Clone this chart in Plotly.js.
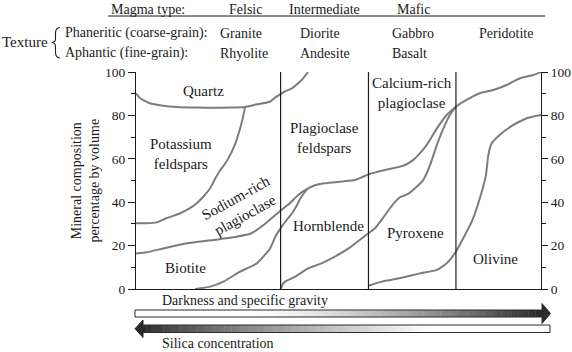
<!DOCTYPE html>
<html>
<head>
<meta charset="utf-8">
<script src="https://cdn.plot.ly/plotly-3.0.1.min.js"></script>
<style>
html,body{margin:0;padding:0;background:#fff;}
#chart{width:572px;height:352px;}
</style>
</head>
<body>
<div id="chart"></div>
<script>
// ---- Data (x: position along the rock series 0-100, y: cumulative % by volume) ----
const quartzX = [0, 1, 3.4, 6.7, 10, 15, 19.1, 23.2, 26.9, 29.8, 33.1, 34.4, 35.7, 36.7, 38.5, 40.9, 42.5];
const quartzY = [90.2, 87.9, 85.6, 84.5, 83.9, 83.6, 83.5, 83.6, 83.9, 85.1, 86.3, 88.3, 89.8, 91.0, 92.5, 96.3, 100];

const kFeldsparX = [0, 2.5, 5.1, 7.5, 10.9, 13.1, 15, 16.6, 18.3, 19.6, 20.7, 21.9, 22.8, 24.4, 25.7, 26.4, 26.9];
const kFeldsparY = [30.3, 30.3, 30.7, 32.6, 34.9, 37, 39.5, 42.5, 46.4, 51, 54.5, 57.5, 60.2, 66.4, 74, 79, 83.6];

const plagioclaseX = [0, 2.6, 6.7, 12.6, 19.1, 24.8, 28.5, 31.5, 33.9, 35.8, 38, 39.3, 40.7, 42.5, 44.2, 46.6, 50.7, 54.1, 55.8, 57.4, 61.5, 65.2, 66.8, 68.4, 70.1, 71.8, 74.3, 76.7, 79.0, 81.6, 84.9, 88.2, 91.5, 94.8, 98.1, 100];
const plagioclaseY = [16.4, 16.9, 18.7, 21.1, 22.6, 24.1, 25.7, 29.5, 33.3, 36.3, 39.5, 42, 44.3, 46.4, 47.8, 48.7, 49.5, 50.2, 51.5, 52.8, 54.8, 56.4, 57.5, 59.4, 62.5, 66.4, 74, 80.2, 84, 87.1, 90.2, 91.7, 94, 97.1, 98.6, 100];

const biotiteX = [14.6, 18.3, 21.6, 25.7, 29.8, 33.1, 34.4, 35.8, 37.2, 38.5, 39.7, 40.5, 41.4, 42.4];
const biotiteY = [0, 1.1, 3.4, 8, 11.8, 18.7, 24.1, 28.3, 31.8, 34.8, 38.5, 41.5, 44, 46.3];

const hornblendeX = [35.7, 36, 36.8, 39.3, 42.5, 45.8, 49.1, 52.5, 55.8, 57.4, 59, 61.5, 63.9, 65.2, 67.2, 68.4, 70.9, 72.6, 74.3, 75.9, 77.5, 79.0];
const hornblendeY = [0, 1.5, 3.4, 5.7, 9.5, 11.8, 14.9, 18.7, 23.4, 25.7, 28, 34.1, 40, 42.3, 43.8, 45.6, 50.2, 57.1, 66.4, 74, 80.2, 84];

const pyroxeneX = [57.4, 60.7, 65.6, 70.1, 74.3, 76.7, 79.0, 80.8, 82.9, 84.9, 86.4, 87, 87.8, 89.8, 93.2, 96.5, 100];
const pyroxeneY = [1.5, 3.4, 5.2, 7.2, 8.8, 11.8, 17.2, 23.4, 31, 41.8, 52.5, 61.8, 67.1, 71, 75.6, 78.7, 80.2];

const dividerX = [35.7, 57.4, 79.0];
const yTickVals = [0, 20, 40, 60, 80, 100];

const regionLabels = ["Quartz", "Potassium<br>feldspars", "Plagioclase<br>feldspars", "Calcium-rich<br>plagioclase", "Hornblende", "Pyroxene", "Olivine", "Biotite"];
const regionLabelX = [16.6, 11.05, 46.6, 68.2, 47.5, 69.0, 88.8, 12.3];
const regionLabelY = [91.2, 62.4, 69.4, 90.3, 29.0, 25.8, 13.8, 9.7];

const magmaTypes = ["Felsic", "Intermediate", "Mafic"];
const phaneritic = ["Granite", "Diorite", "Gabbro", "Peridotite"];
const aphanitic = ["Rhyolite", "Andesite", "Basalt"];

// ---- Layout helpers (pixel -> paper) ----
const L = 136, R = 541, T = 72, B = 289;
const px = p => (p - L) / (R - L);
const py = p => (B - p) / (B - T);
const FONT = '"Liberation Serif", "DejaVu Serif", serif';

const curveLine = {color: '#7c7c7c', width: 2, shape: 'spline', smoothing: 0.5};
const curves = [[quartzX, quartzY], [kFeldsparX, kFeldsparY], [plagioclaseX, plagioclaseY],
                [biotiteX, biotiteY], [hornblendeX, hornblendeY], [pyroxeneX, pyroxeneY]];
const traces = curves.map(c => ({x: c[0], y: c[1], mode: 'lines', line: curveLine, hoverinfo: 'skip', showlegend: false}));
dividerX.forEach(v => traces.push({x: [v, v], y: [0, 100], mode: 'lines', yaxis: 'y2',
  line: {color: '#1e1e1e', width: 1.2}, hoverinfo: 'skip', showlegend: false}));

const annotations = [];
function txt(text, x, y, opts) {
  annotations.push(Object.assign({text: text, x: x, y: y, xref: 'paper', yref: 'paper',
    showarrow: false, xanchor: 'left', yanchor: 'middle',
    font: {family: FONT, size: 14, color: '#1a1a1a'}}, opts || {}));
}
// header
txt("Magma type:", px(109), py(9));
const magmaLeft = [227, 287, 395];
magmaTypes.forEach((t, i) => txt(t, px(magmaLeft[i]), py(9)));
txt("Texture", px(0), py(42), {font: {family: FONT, size: 15, color: '#1a1a1a'}});
txt("Phaneritic (coarse-grain):", px(63), py(33));
txt("Aphantic (fine-grain):", px(63), py(53));
const rockLeft = [218, 298, 390, 477];
phaneritic.forEach((t, i) => txt(t, px(rockLeft[i]), py(33)));
aphanitic.forEach((t, i) => txt(t, px(rockLeft[i]), py(53)));
// y title
txt("Mineral composition<br>percentage by volume", px(85), 0.5, {xanchor: 'center', textangle: -90});
// bottom
txt("Darkness and specific gravity", px(160), py(300));
txt("Silica concentration", px(160), py(343));
// region labels
regionLabels.forEach((t, i) => annotations.push({text: t, x: regionLabelX[i], y: regionLabelY[i],
  xref: 'x', yref: 'y', showarrow: false, font: {family: FONT, size: 15, color: '#1a1a1a'}}));
annotations.push({text: "Sodium-rich<br>plagioclase", x: 25.7, y: 37.9, xref: 'x', yref: 'y',
  showarrow: false, textangle: -29, font: {family: FONT, size: 15, color: '#1a1a1a'}});

// shapes
const shapes = [];
shapes.push({type: 'line', xref: 'paper', yref: 'paper', x0: px(108), x1: px(545), y0: py(16), y1: py(16),
  line: {color: '#1a1a1a', width: 1}});
// thin brace next to "Texture"
shapes.push({type: 'path', xref: 'paper', yref: 'paper',
  path: `M${px(60)},${py(27.5)} Q${px(55.5)},${py(28)} ${px(55.5)},${py(33)} L${px(55.5)},${py(38.5)} ` +
        `Q${px(55.5)},${py(42.5)} ${px(51.5)},${py(42.5)} Q${px(55.5)},${py(42.5)} ${px(55.5)},${py(46.5)} ` +
        `L${px(55.5)},${py(52.5)} Q${px(55.5)},${py(57.5)} ${px(60)},${py(58)}`,
  line: {color: '#222222', width: 1.1}});
// gradient arrows
const N = 120;
function gray(v) { v = Math.max(0, Math.min(255, Math.round(v))); return 'rgb(' + v + ',' + v + ',' + v + ')'; }
// arrow 1 (light -> dark, pointing right)
const a1x0 = 135, a1x1 = 542, a1y0 = 310, a1y1 = 317;
for (let i = 0; i < N; i++) {
  const p0 = a1x0 + (a1x1 - a1x0) * i / N, p1 = a1x0 + (a1x1 - a1x0) * (i + 1) / N;
  const m = (p0 + p1) / 2;
  let v = 255;
  if (m > 250) { const t = (m - 250) / (a1x1 - 250); v = 255 - 215 * Math.pow(t, 1.4); }
  shapes.push({type: 'rect', xref: 'paper', yref: 'paper', x0: px(p0), x1: px(p1) + 0.001, y0: py(a1y1), y1: py(a1y0),
    fillcolor: gray(v), line: {width: 0}});
}
shapes.push({type: 'path', xref: 'paper', yref: 'paper',
  path: `M${px(a1x1)},${py(a1y0)} L${px(a1x0)},${py(a1y0)} L${px(a1x0)},${py(a1y1)} L${px(a1x1)},${py(a1y1)}`,
  line: {color: '#2a2a2a', width: 1}});
shapes.push({type: 'path', xref: 'paper', yref: 'paper',
  path: `M${px(a1x1)},${py(303.5)} L${px(550.5)},${py(313.5)} L${px(a1x1)},${py(323.5)} Z`,
  fillcolor: '#2b2b2b', line: {color: '#2b2b2b', width: 1}});
// arrow 2 (dark -> light, pointing left)
const a2x0 = 143, a2x1 = 550, a2y0 = 325, a2y1 = 332.5;
for (let i = 0; i < N; i++) {
  const p0 = a2x0 + (a2x1 - a2x0) * i / N, p1 = a2x0 + (a2x1 - a2x0) * (i + 1) / N;
  const m = (p0 + p1) / 2;
  const t = Math.min(1, (m - a2x0) / (430 - a2x0));
  const v = 40 + 215 * Math.pow(t, 0.8);
  shapes.push({type: 'rect', xref: 'paper', yref: 'paper', x0: px(p0), x1: px(p1) + 0.001, y0: py(a2y1), y1: py(a2y0),
    fillcolor: gray(v), line: {width: 0}});
}
shapes.push({type: 'path', xref: 'paper', yref: 'paper',
  path: `M${px(a2x0)},${py(a2y0)} L${px(a2x1)},${py(a2y0)} L${px(a2x1)},${py(a2y1)} L${px(a2x0)},${py(a2y1)}`,
  line: {color: '#2a2a2a', width: 1}});
shapes.push({type: 'path', xref: 'paper', yref: 'paper',
  path: `M${px(a2x0)},${py(320)} L${px(135)},${py(328.75)} L${px(a2x0)},${py(337.5)} Z`,
  fillcolor: '#2b2b2b', line: {color: '#2b2b2b', width: 1}});

const yaxisBase = {
  range: [0, 100], tickvals: yTickVals, ticks: 'outside', ticklen: 7, tickwidth: 1, tickcolor: '#1a1a1a',
  minor: {dtick: 10, tick0: 0, ticks: 'outside', ticklen: 4, tickwidth: 1, tickcolor: '#1a1a1a'},
  showline: true, linecolor: '#1a1a1a', linewidth: 1, showgrid: false, zeroline: false,
  tickfont: {family: FONT, size: 13.5, color: '#1a1a1a'}, fixedrange: true
};

const layout = {
  width: 572, height: 352,
  margin: {l: L, r: 572 - R, t: T, b: 352 - B, pad: 0},
  paper_bgcolor: '#ffffff', plot_bgcolor: '#ffffff',
  showlegend: false,
  font: {family: FONT, color: '#1a1a1a'},
  xaxis: {range: [0, 100], showline: true, linecolor: '#1a1a1a', linewidth: 1, ticks: '',
          showticklabels: false, showgrid: false, zeroline: false, fixedrange: true},
  yaxis: Object.assign({}, yaxisBase, {side: 'left'}),
  yaxis2: Object.assign({}, yaxisBase, {side: 'right', overlaying: 'y', ticklen: 6}),
  annotations: annotations,
  shapes: shapes
};

Plotly.newPlot('chart', traces, layout, {staticPlot: true, displayModeBar: false});
</script>
</body>
</html>
